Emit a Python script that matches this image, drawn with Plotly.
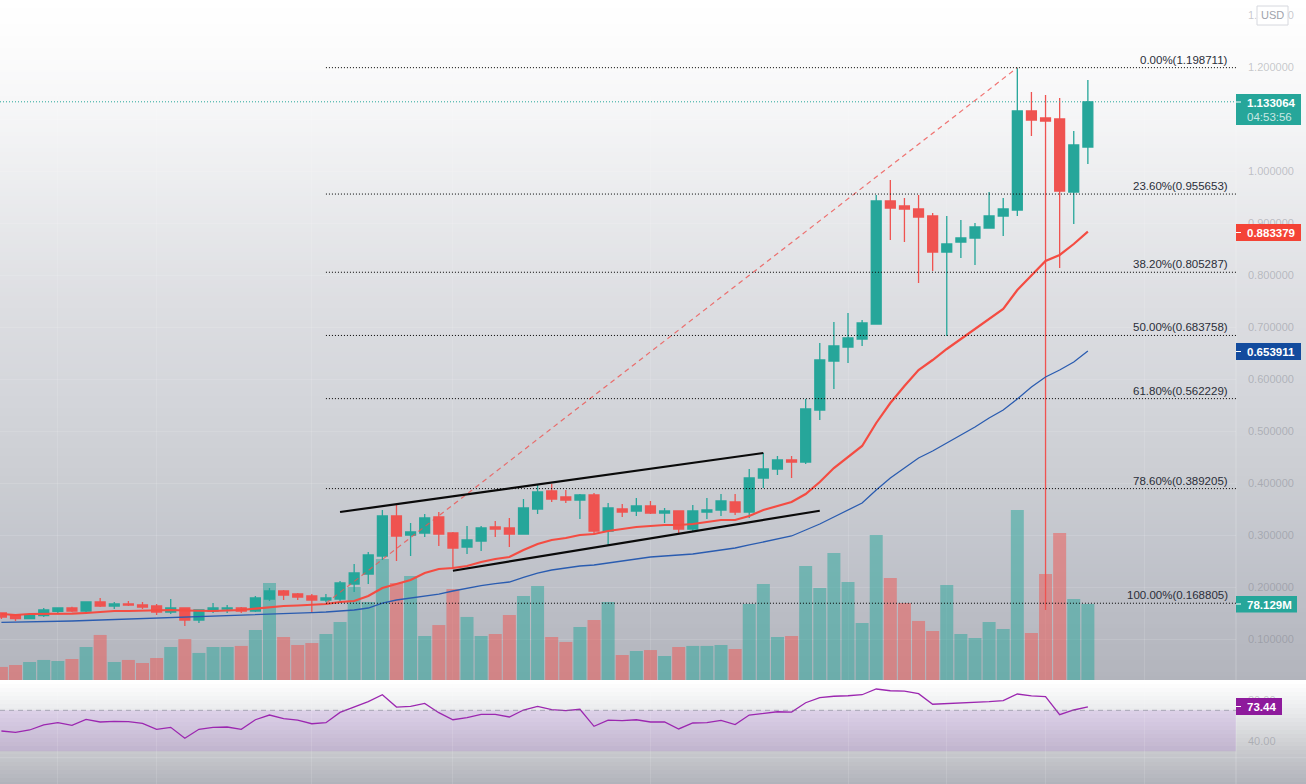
import plotly.graph_objects as go

# candles, oldest first
opens = [.150,.1467,.139,.1448,.1533,.1596,.1538,.1712,.1635,.1673,.1654,.1635,.1519,.1596,.1365,.1538,.1577,.1596,.1538,.1769,
         .1923,.1865,.1827,.175,.1769,.2058,.225,.2596,.3365,.30,.3038,.3346,.3038,.2769,.2885,.3154,.3135,.3019,.35,.3846,
         .3731,.3673,.3769,.3077,.35,.3462,.3558,.3423,.3462,.3115,.3442,.3481,.3635,.3442,.4096,.4269,.4442,.4404,.5404,.6346,
         .6615,.6769,.7058,.9423,.9327,.9269,.9135,.8442,.8635,.8712,.8904,.9135,.925,1.1154,1.1019,1.10,.9596,1.0462]
highs = [.151,.147,.1494,.1596,.1596,.1621,.1712,.1788,.1712,.1731,.1712,.1673,.1769,.1596,.1558,.1692,.1654,.1615,.1827,.1981,
         .1942,.1885,.1865,.1865,.2115,.2442,.2673,.3481,.3577,.3231,.3404,.3442,.3058,.3173,.3173,.3269,.3327,.3692,.3962,.3981,
         .3865,.3788,.3808,.3615,.3596,.3712,.3654,.3519,.3462,.3577,.3712,.3788,.3788,.4269,.4577,.4519,.4519,.5615,.6692,.7096,
         .7269,.7135,.9538,.9827,.9481,.9538,.9192,.9135,.9058,.90,.9596,.9481,1.1987,1.1519,1.1462,1.1404,1.0769,1.175]
lows = [.1385,.1346,.139,.1423,.1494,.1519,.15,.1615,.1577,.1635,.1577,.1462,.1481,.125,.1308,.15,.15,.15,.1519,.1731,
        .175,.175,.15,.1712,.1731,.1904,.2058,.2519,.25,.2596,.2962,.2788,.2365,.2635,.2692,.2962,.2769,.3019,.3404,.3635,
        .3615,.3308,.3019,.2808,.3346,.3365,.3404,.3231,.3038,.3077,.3308,.3365,.3385,.3327,.3904,.4154,.4096,.4365,.5212,.5808,
        .6308,.6635,.7058,.8673,.8635,.7846,.8077,.6827,.8327,.8192,.8904,.875,.9135,1.0673,.1558,.8135,.8981,1.0135]
closes = [.1423,.139,.1456,.1558,.1596,.1538,.1712,.1635,.1673,.1654,.1615,.1519,.1596,.1365,.1558,.1596,.1596,.1538,.1788,.1923,
          .1846,.1808,.175,.1788,.2077,.2269,.2615,.3365,.2981,.3058,.3327,.3019,.275,.2904,.3135,.3115,.3019,.3519,.3827,.3692,
          .3673,.3769,.3077,.3519,.3442,.3558,.3423,.3462,.3115,.3462,.3481,.3654,.3442,.4096,.4269,.4442,.4404,.5423,.6365,.6635,
          .6788,.7077,.9423,.9288,.9269,.9115,.8442,.8596,.8712,.8923,.9135,.9269,1.1154,1.0981,1.0962,.9615,1.05,1.133064]

# volume in millions
volumes = [13.4,15.4,18.5,20.6,19.5,21.6,33.9,46.3,18.5,20.6,17.5,22.6,33.9,42.1,27.8,33.9,33.9,35.0,51.4,99.7,
           44.2,36.0,38.0,47.3,59.6,95.6,80.2,124.4,99.7,106.9,45.2,56.5,93.5,64.8,45.2,47.3,66.8,86.4,96.6,44.2,
           39.1,54.5,61.7,80.2,25.7,29.8,30.8,24.7,33.9,35.0,35.0,36.0,31.9,78.1,98.7,44.2,45.2,117.2,94.6,130.6,
           100.7,58.6,149.1,104.9,79.2,60.7,50.4,97.7,47.3,43.2,59.6,52.4,174.8,48.3,109.0,151.1,83.3,78.129]

ema_fast = [.1481,.1462,.1481,.1481,.1481,.1487,.15,.1519,.1538,.1538,.1548,.1558,.1558,.1548,.1538,.1538,.1548,.1558,.1583,.1615,
            .1635,.1644,.1654,.1673,.1712,.1731,.1827,.1981,.2058,.2135,.2269,.2346,.2365,.2404,.2481,.2538,.2577,.2712,.2827,.2904,
            .2942,.30,.3019,.3077,.3115,.3154,.3173,.3192,.3192,.3212,.325,.3288,.3288,.3365,.3481,.3558,.3635,.3788,.4019,.4288,
            .45,.4712,.5154,.5538,.5865,.6173,.6365,.6577,.6769,.6962,.7154,.7346,.7712,.80,.8269,.8385,.8596,.883379]
ema_slow = [.1321,.1323,.1327,.1333,.134,.1346,.1356,.1365,.1379,.139,.14,.1408,.1415,.1423,.1429,.1435,.1442,.145,.1462,.1477,
            .149,.15,.1508,.1519,.1538,.1558,.1596,.1692,.175,.1788,.1827,.1865,.1923,.1981,.2026,.2064,.2096,.2187,.2269,.2327,
            .2365,.2404,.2423,.2462,.25,.2538,.2577,.2596,.2615,.2635,.2673,.2712,.275,.2808,.2865,.2923,.2981,.3096,.3212,.3346,
            .3481,.3615,.3865,.4096,.4288,.4481,.4615,.4769,.4923,.5077,.525,.5404,.5615,.5846,.6038,.6173,.6327,.653911]

rsi = [49.8,48.5,50.8,55.7,57.9,55.4,61.2,58.6,59.3,58.9,57.3,51.5,53.4,42.7,51.5,53.4,53.7,51.5,60.8,65.4,
       61.8,60.5,56.9,57.9,68.0,72.9,78.4,85.2,73.2,73.9,76.8,67.7,60.8,62.8,66.1,66.1,63.5,70.3,73.9,70.6,
       69.6,71.0,54.4,60.5,59.9,60.8,58.6,58.6,51.8,57.6,57.9,60.2,56.0,65.4,67.1,68.6,68.3,77.4,82.3,83.7,
       84.2,85.2,90.8,89.1,88.8,86.2,75.9,76.4,76.8,77.8,78.4,79.4,85.9,84.0,83.3,65.7,70.3,73.44]

fib_levels = [1.198711, 0.955653, 0.805287, 0.683758, 0.562229, 0.389205, 0.168805]
fib_labels = ["0.00%(1.198711)", "23.60%(0.955653)", "38.20%(0.805287)", "50.00%(0.683758)",
              "61.80%(0.562229)", "78.60%(0.389205)", "100.00%(0.168805)"]
price_ticks = [0.1, 0.2, 0.3, 0.4, 0.5, 0.6, 0.7, 0.8, 0.9, 1.0, 1.1, 1.2, 1.3]
rsi_ticks = [40, 80]
rsi_grid = 23.7
time_grid = [4, 11, 22, 32, 46, 60, 67, 74, 81]

# hand drawn channel and the fib anchor line, bar index / price
upper_x, upper_y = [24, 54], [.3442, .4577]
lower_x, lower_y = [32, 58], [.2313, .3467]
fib_x, fib_y = [23, 72], [0.168805, 1.198711]

# background shading, y pixel / rgb
main_stops = [(0, (255, 255, 255)), (40, (252, 252, 252)), (100, (247, 247, 248)), (180, (236, 237, 239)),
              (300, (221, 222, 226)), (400, (211, 213, 218)), (480, (203, 205, 210)), (540, (195, 198, 205)),
              (600, (188, 190, 198)), (680, (178, 180, 188))]
rsi_stops = [(680, (255, 255, 255)), (710, (233, 234, 236)), (750, (200, 201, 205)), (784, (176, 178, 186))]

W, H = 1306, 784
PANE_R, PANE_B = 1236, 680
BAR_PX = 14.11
GREEN, RED = "#26a69a", "#ef5350"


def px(x):
    return x / W


def py(y):
    return 1 - y / H


def shade(stops, step=4):
    out = []
    for (y0, c0), (y1, c1) in zip(stops, stops[1:]):
        y = y0
        while y < y1:
            t = (y - y0) / (y1 - y0)
            col = [round(a + (b - a) * t) for a, b in zip(c0, c1)]
            out.append(dict(type="rect", xref="paper", yref="paper", x0=0, x1=1, y0=py(y + step), y1=py(y),
                            fillcolor=f"rgb({col[0]},{col[1]},{col[2]})", line_width=0, layer="below"))
            y += step
    return out


def tag(y0, y1, x1, color):
    return dict(type="rect", xref="paper", yref="paper", x0=px(PANE_R), x1=px(x1), y0=py(y1), y1=py(y0),
                fillcolor=color, line_width=0, layer="above")


def tag_text(y, text, size=11.5, color="white"):
    return dict(xref="paper", yref="paper", x=px(1245), y=py(y), xanchor="left", yanchor="middle", showarrow=False,
                text=text, font=dict(family="Liberation Sans", size=size, color=color))


x = list(range(len(closes)))
x_lo = (0 - 1.4) / BAR_PX
x_hi = (PANE_R - 1.4) / BAR_PX
vol_colors = ["rgba(38,166,154,0.5)" if c >= o else "rgba(239,83,80,0.5)" for o, c in zip(opens, closes)]

fig = go.Figure()
fig.add_trace(go.Bar(x=x, y=volumes, marker=dict(color=vol_colors, line_width=0), width=0.92, xaxis="x", yaxis="y"))
fig.add_trace(go.Candlestick(x=x, open=opens, high=highs, low=lows, close=closes, whiskerwidth=0,
                             increasing=dict(line=dict(color=GREEN, width=1.3), fillcolor=GREEN),
                             decreasing=dict(line=dict(color=RED, width=1.3), fillcolor=RED),
                             xaxis="x", yaxis="y2"))
fig.add_trace(go.Scatter(x=x, y=ema_slow, mode="lines", line=dict(color="#2a5cb0", width=1.3), xaxis="x", yaxis="y2"))
fig.add_trace(go.Scatter(x=x, y=ema_fast, mode="lines", line=dict(color="#f44c42", width=2.2), xaxis="x", yaxis="y2"))
fig.add_trace(go.Scatter(x=fib_x, y=fib_y, mode="lines", line=dict(color="rgba(239,83,80,0.8)", width=1.2, dash="5px,4px"),
                         xaxis="x", yaxis="y2"))
fig.add_trace(go.Scatter(x=x, y=rsi, mode="lines", line=dict(color="#9c27b0", width=1.3), xaxis="x2", yaxis="y3"))

shapes = shade(main_stops) + shade(rsi_stops)
shapes.append(dict(type="rect", xref="paper", yref="y3", x0=0, x1=px(PANE_R), y0=30, y1=70,
                   fillcolor="rgba(150,60,210,0.15)", line_width=0, layer="below"))
shapes.append(dict(type="line", xref="paper", yref="y3", x0=0, x1=px(PANE_R), y0=70, y1=70,
                   line=dict(color="rgba(120,123,134,0.55)", width=1, dash="5px,4px"), layer="above"))
shapes.append(dict(type="line", xref="paper", yref="y3", x0=0, x1=1, y0=rsi_grid, y1=rsi_grid,
                   line=dict(color="rgba(255,255,255,0.16)", width=1), layer="below"))
shapes.append(dict(type="line", xref="paper", yref="paper", x0=px(PANE_R), x1=px(PANE_R), y0=0, y1=1,
                   line=dict(color="rgba(255,255,255,0.22)", width=1), layer="below"))
for level in fib_levels:
    shapes.append(dict(type="line", xref="x", yref="y2", x0=fib_x[0], x1=x_hi, y0=level, y1=level,
                       line=dict(color="#000000", width=1, dash="1px,2px"), layer="above"))
shapes.append(dict(type="line", xref="paper", yref="y2", x0=0, x1=px(PANE_R), y0=closes[-1], y1=closes[-1],
                   line=dict(color=GREEN, width=1, dash="1px,2px"), layer="above"))
for tx, ty in [(upper_x, upper_y), (lower_x, lower_y)]:
    shapes.append(dict(type="line", xref="x", yref="y2", x0=tx[0], x1=tx[1], y0=ty[0], y1=ty[1],
                       line=dict(color="#0a0a0a", width=2.2), layer="above"))

# price scale tags
shapes += [tag(94, 125, 1301, GREEN), tag(224, 241, 1301, "#f44336"), tag(343, 360, 1301, "#134b9e"),
           tag(596, 612.5, 1297, GREEN), tag(698, 715, 1282, "#8e1a9c")]
for yy in [102, 232.5, 351.5, 604, 706.5]:
    shapes.append(dict(type="line", xref="paper", yref="paper", x0=px(PANE_R), x1=px(1241), y0=py(yy), y1=py(yy),
                       line=dict(color="white", width=1), layer="above"))
shapes.append(dict(type="rect", xref="paper", yref="paper", x0=px(1257), x1=px(1288), y0=py(25), y1=py(6),
                   fillcolor="rgba(255,255,255,0.92)", line=dict(color="#d6d8de", width=1), layer="above"))

annotations = []
for level, label in zip(fib_levels, fib_labels):
    annotations.append(dict(xref="paper", yref="y2", x=px(1230), y=level, xanchor="right", yanchor="bottom", showarrow=False,
                            text=label, yshift=0, font=dict(family="Liberation Sans", size=11.5, color="#2a2e39")))
annotations += [tag_text(102.5, "<b>1.133064</b>"), tag_text(117, "04:53:56", color="rgba(255,255,255,0.75)"),
                tag_text(232.5, "<b>0.883379</b>"), tag_text(351.5, "<b>0.653911</b>"),
                tag_text(604.5, "<b>78.129M</b>"), tag_text(706.5, "<b>73.44</b>")]
annotations.append(dict(xref="paper", yref="paper", x=px(1272.5), y=py(15.5), xanchor="center", yanchor="middle", showarrow=False,
                        text="USD", font=dict(family="Liberation Sans", size=11, color="#a0a3ac")))

grid = "rgba(255,255,255,0.12)"
tick_font = dict(family="Liberation Sans", size=11, color="rgba(120,123,134,0.42)")
x_common = dict(range=[x_lo, x_hi], domain=[0, px(PANE_R)], tickmode="array", tickvals=time_grid, showticklabels=False,
                showgrid=True, gridcolor=grid, zeroline=False, ticks="")

fig.update_layout(
    width=W, height=H, margin=dict(l=0, r=0, t=0, b=0), showlegend=False, hovermode=False,
    paper_bgcolor="rgba(0,0,0,0)", plot_bgcolor="rgba(0,0,0,0)", boxgap=0.22, boxgroupgap=0.1,
    xaxis=dict(x_common, anchor="y", rangeslider=dict(visible=False)),
    xaxis2=dict(x_common, anchor="y3"),
    yaxis=dict(domain=[py(PANE_B), 1], range=[0, PANE_B * 1.028], visible=False),
    yaxis2=dict(domain=[py(PANE_B), 1], range=[(691 - PANE_B) / 520, 691 / 520], overlaying="y", side="right", anchor="x",
                tickmode="array", tickvals=price_ticks, tickformat=".6f", tickfont=tick_font, ticklabelstandoff=11,
                showgrid=True, gridcolor=grid, zeroline=False, ticks=""),
    yaxis3=dict(domain=[0, py(681)], range=[-1.9, 98.6], side="right", anchor="x2", tickmode="array", tickvals=rsi_ticks,
                tickformat=".2f", tickfont=tick_font, ticklabelstandoff=11, showgrid=False, zeroline=False, ticks=""),
    shapes=shapes, annotations=annotations,
)

fig.write_html("out.html", config={"displayModeBar": False},
               post_script="document.body.style.margin='0';document.body.style.overflow='hidden';")
